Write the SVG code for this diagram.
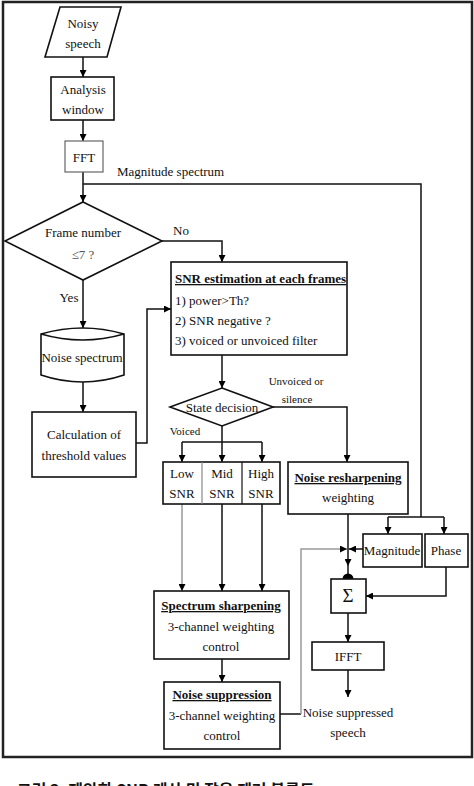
<svg xmlns="http://www.w3.org/2000/svg" width="474" height="786" viewBox="0 0 474 786">
<defs>
<marker id="ah" viewBox="0 0 10 10" refX="10" refY="5" markerWidth="10" markerHeight="7" orient="auto" markerUnits="userSpaceOnUse"><path d="M0,0 L10,5 L0,10 z" fill="#000"/></marker>
</defs>
<style>
.t{font-family:'Liberation Serif','Times New Roman','DejaVu Serif',serif;font-size:13px;fill:#111;}
.c{text-anchor:middle;}
.b{font-weight:bold;text-decoration:underline;}
.s{font-size:11px;}
.box{fill:#fff;stroke:#111;stroke-width:1.6;}
.thin{fill:#fff;stroke:#666;stroke-width:1.2;}
.ln{fill:none;stroke:#111;stroke-width:1.5;}
.gl{fill:none;stroke:#999;stroke-width:1.5;}
.cap{font-family:'Noto Sans CJK KR',sans-serif;font-size:16px;font-weight:bold;fill:#111;}
</style>
<rect width="474" height="786" fill="#fff"/>
<rect x="3" y="2" width="469" height="755" fill="none" stroke="#222" stroke-width="2.5"/>

<g id="connectors">
<path class="ln" d="M83,57 V77" marker-end="url(#ah)"/>
<path class="ln" d="M83,120 V141" marker-end="url(#ah)"/>
<path class="ln" d="M83,172 V202" marker-end="url(#ah)"/>
<path class="ln" d="M83,184 H421 V517"/>
<path class="ln" d="M388,517 H444"/>
<path class="ln" d="M388,517 V534" marker-end="url(#ah)"/>
<path class="ln" d="M444,517 V534" marker-end="url(#ah)"/>
<path class="ln" d="M162,241 H222 V262" marker-end="url(#ah)"/>
<path class="ln" d="M83,280 V328" marker-end="url(#ah)"/>
<path class="ln" d="M83,382 V412" marker-end="url(#ah)"/>
<path class="ln" d="M136,443 H147 V309 H171" marker-end="url(#ah)"/>
<path class="ln" d="M222,355 V388" marker-end="url(#ah)"/>
<path class="ln" d="M273,407 H347 V462" marker-end="url(#ah)"/>
<path class="ln" d="M222,426 V442"/>
<path class="ln" d="M182,442 H262"/>
<path class="ln" d="M182,442 V462" marker-end="url(#ah)"/>
<path class="ln" d="M222,442 V462" marker-end="url(#ah)"/>
<path class="ln" d="M262,442 V462" marker-end="url(#ah)"/>
<path class="gl" d="M182,504 V591" marker-end="url(#ah)"/>
<path class="ln" d="M222,504 V591" marker-end="url(#ah)"/>
<path class="ln" d="M262,504 V591" marker-end="url(#ah)" stroke="#444"/>
<path class="ln" d="M222,659 V682" marker-end="url(#ah)"/>
<path class="ln" d="M280,714 H301"/>
<path class="gl" d="M301,714 V549 H347" marker-end="url(#ah)"/>
<path class="ln" d="M363,549 H349" marker-end="url(#ah)"/>
<path class="ln" d="M348,514 V566" marker-end="url(#ah)"/>
<path class="ln" d="M348,566 V579"/>
<path d="M342.5,579 A5.5,5.5 0 0 1 353.5,579 Z" fill="#000"/>
<path class="ln" d="M446,567 V596 H366" marker-end="url(#ah)"/>
<path class="ln" d="M348,613 V642" marker-end="url(#ah)"/>
<path class="ln" d="M348,670 V697" marker-end="url(#ah)"/>
</g>

<g id="labels">
<text x="117" y="176" class="t">Magnitude spectrum</text>
<text x="173" y="235" class="t">No</text>
<text x="69" y="302" class="t c">Yes</text>
<text x="296" y="385" class="t c s">Unvoiced or</text>
<text x="297" y="403" class="t c s">silence</text>
<text x="185" y="435" class="t c s">Voiced</text>
</g>

<g id="noisy-speech">
<path class="box" d="M60,7 H121 L107,57 H45 Z"/>
<text x="83" y="28" class="t c">Noisy</text>
<text x="83" y="48" class="t c">speech</text>
</g>

<g id="analysis-window">
<rect class="box" x="51" y="77" width="63" height="43"/>
<text x="83" y="94" class="t c">Analysis</text>
<text x="83" y="114" class="t c">window</text>
</g>

<g id="fft">
<rect class="thin" x="65" y="141" width="38" height="31"/>
<text x="84" y="162" class="t c">FFT</text>
</g>

<g id="frame-decision">
<path class="box" d="M83,202 L162,241 L83,280 L5,241 Z"/>
<text x="83" y="237" class="t c">Frame number</text>
<text x="83" y="259" class="t c" style="fill:#555">≤7 ?</text>
</g>

<g id="noise-spectrum">
<path class="box" d="M41,334 Q82.5,322 124,334 V375 Q82.5,389 41,375 Z"/>
<path d="M41,334 Q82.5,346 124,334" fill="none" stroke="#111" stroke-width="1.4"/>
<text x="82" y="362" class="t c">Noise spectrum</text>
</g>

<g id="threshold">
<rect class="box" x="32" y="412" width="104" height="65"/>
<text x="84" y="439" class="t c">Calculation of</text>
<text x="84" y="460" class="t c">threshold values</text>
</g>

<g id="snr-estimation">
<rect class="box" x="171" y="262" width="176" height="93" stroke-width="2"/>
<text x="175" y="283" class="t b">SNR estimation at each frames</text>
<text x="175" y="305" class="t">1) power&gt;Th?</text>
<text x="175" y="325" class="t">2) SNR negative ?</text>
<text x="175" y="345" class="t">3) voiced or unvoiced filter</text>
</g>

<g id="state-decision">
<path class="box" d="M222,388 L273,407 L222,426 L170,407 Z"/>
<text x="222" y="412" class="t c">State decision</text>
</g>

<g id="snr-classes">
<rect class="box" x="163" y="462" width="117" height="42"/>
<line x1="202" y1="462" x2="202" y2="504" stroke="#888" stroke-width="1.2"/>
<line x1="242" y1="462" x2="242" y2="504" stroke="#111" stroke-width="1.2"/>
<text x="182" y="478" class="t c">Low</text>
<text x="182" y="498" class="t c">SNR</text>
<text x="222" y="478" class="t c">Mid</text>
<text x="222" y="498" class="t c">SNR</text>
<text x="261" y="478" class="t c">High</text>
<text x="261" y="498" class="t c">SNR</text>
</g>

<g id="noise-resharpening">
<rect class="box" x="288" y="462" width="120" height="52"/>
<text x="348" y="482" class="t c b">Noise resharpening</text>
<text x="348" y="502" class="t c">weighting</text>
</g>

<g id="magnitude">
<rect class="box" x="363" y="534" width="59" height="33"/>
<text x="392" y="555" class="t c">Magnitude</text>
</g>

<g id="phase">
<rect class="box" x="425" y="534" width="43" height="33" stroke="#555"/>
<text x="446" y="555" class="t c">Phase</text>
</g>

<g id="sum">
<rect class="box" x="331" y="579" width="35" height="34"/>
<text x="348" y="602" class="t c" style="font-size:19px">Σ</text>
</g>

<g id="ifft">
<rect class="box" x="312" y="642" width="72" height="28"/>
<text x="348" y="661" class="t c">IFFT</text>
</g>

<g id="output">
<text x="348" y="717" class="t c">Noise suppressed</text>
<text x="348" y="737" class="t c">speech</text>
</g>

<g id="spectrum-sharpening">
<rect class="box" x="154" y="591" width="135" height="68"/>
<text x="221" y="610" class="t c b">Spectrum sharpening</text>
<text x="221" y="631" class="t c">3-channel weighting</text>
<text x="221" y="651" class="t c">control</text>
</g>

<g id="noise-suppression">
<rect class="box" x="164" y="682" width="116" height="67"/>
<text x="222" y="699" class="t c b">Noise suppression</text>
<text x="222" y="720" class="t c">3-channel weighting</text>
<text x="222" y="740" class="t c">control</text>
</g>

<text x="17" y="796" class="cap">그림 3. 제안한 SNR 계산 및 잡음 제거 블록도</text>
</svg>
